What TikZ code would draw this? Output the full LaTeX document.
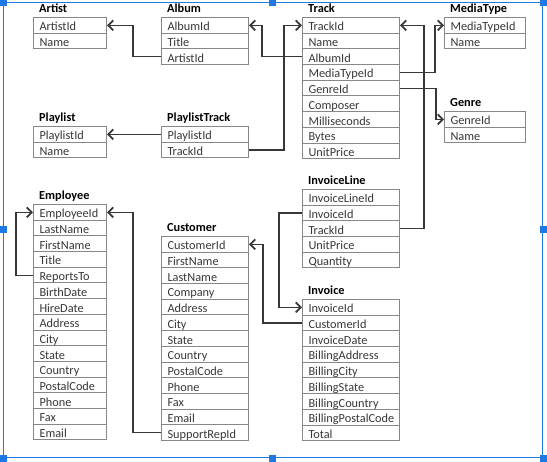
\documentclass[tikz,border=0pt]{standalone}
\usepackage{fontspec}
\setmainfont{Carlito}
\usepackage{xcolor}
\usetikzlibrary{arrows.meta}

\definecolor{boxgray}{RGB}{135,135,135}
\definecolor{textgray}{RGB}{55,55,55}
\definecolor{linkgray}{RGB}{55,55,55}
\definecolor{selblue}{RGB}{30,120,230}

% one table: name, left x, top y, width, title, fields
\newcommand{\dbtable}[6]{%
  \node[tabletitle] (#1-title) at (#2+6,#3-4) {#5};
  \pgfmathsetmacro\tabtw{#4-12}
  \foreach \f [count=\i] in {#6} {
    \node[field, minimum width=#4pt, text width=\tabtw pt] (#1-\i)
      at (#2,{#3+(\i-1)*15.7}) {\f};
  }
}

\begin{document}
\begin{tikzpicture}[
    x=1pt, y=-1pt,
    field/.style={
        draw=boxgray,
        line width=1pt,
        rectangle,
        anchor=north west,
        minimum height=15.7pt,
        inner xsep=6pt,
        inner ysep=0pt,
        text height=11pt,
        text depth=0pt,
        align=left,
        text=textgray,
        font=\fontsize{12.3}{14}\selectfont
    },
    tabletitle/.style={
        anchor=base west,
        inner sep=0pt,
        font=\fontsize{12.3}{14}\selectfont\bfseries
    },
    link/.style={
        draw=linkgray,
        line width=1.1pt,
        -{Straight Barb[length=5pt,width=10pt,line width=1.8pt]}
    },
    handle/.style={fill=selblue}
]
\useasboundingbox (0,0) rectangle (547,462);

% selection frame
\draw[selblue, line width=1pt] (3,2.5) rectangle (542.7,457.7);
\foreach \hx/\hy in {3/3, 272/3, 543.5/3, 3/230, 543.5/230, 3/459, 272/459, 543.5/459}
    \fill[handle] (\hx-3.5,\hy-3.5) rectangle (\hx+3.5,\hy+3.5);

% tables
\dbtable{artist}{33}{17}{73}{Artist}{ArtistId, Name}
\dbtable{album}{161}{17}{87}{Album}{AlbumId, Title, ArtistId}
\dbtable{track}{302}{17}{97}{Track}{TrackId, Name, AlbumId, MediaTypeId, GenreId,
    Composer, Milliseconds, Bytes, UnitPrice}
\dbtable{mediatype}{444}{17}{81}{MediaType}{MediaTypeId, Name}
\dbtable{genre}{444}{111}{81}{Genre}{GenreId, Name}
\dbtable{playlist}{33}{126}{73}{Playlist}{PlaylistId, Name}
\dbtable{playlisttrack}{161}{126}{87}{PlaylistTrack}{PlaylistId, TrackId}
\dbtable{employee}{33}{204}{73}{Employee}{EmployeeId, LastName, FirstName, Title,
    ReportsTo, BirthDate, HireDate, Address, City, State, Country, PostalCode,
    Phone, Fax, Email}
\dbtable{customer}{161}{236}{87}{Customer}{CustomerId, FirstName, LastName, Company,
    Address, City, State, Country, PostalCode, Phone, Fax, Email, SupportRepId}
\dbtable{invoiceline}{302}{189}{97}{InvoiceLine}{InvoiceLineId, InvoiceId, TrackId,
    UnitPrice, Quantity}
\dbtable{invoice}{302}{299}{97}{Invoice}{InvoiceId, CustomerId, InvoiceDate,
    BillingAddress, BillingCity, BillingState, BillingCountry, BillingPostalCode, Total}

% foreign keys
\draw[link] (album-3.west) -- ++(-28,0) |- (artist-1.east);
\draw[link] (track-3.west) -- ++(-40,0) |- (album-1.east);
\draw[link] (playlisttrack-2.east) -- ++(35,0) |- (track-1.west);
\draw[link] (invoiceline-3.east) -- ++(24,0) |- (track-1.east);
\draw[link] (track-4.east) -- ++(35,0) |- (mediatype-1.west);
\draw[link] (track-5.east) -- ++(36,0) |- (genre-1.west);
\draw[link] (playlisttrack-1.west) -- (playlist-1.east);
\draw[link] (employee-5.west) -- ++(-17,0) |- (employee-1.west);
\draw[link] (customer-13.west) -- ++(-28,0) |- (employee-1.east);
\draw[link] (invoiceline-2.west) -- ++(-23,0) |- (invoice-1.west);
\draw[link] (invoice-2.west) -- ++(-39,0) |- (customer-1.east);

\end{tikzpicture}
\end{document}
